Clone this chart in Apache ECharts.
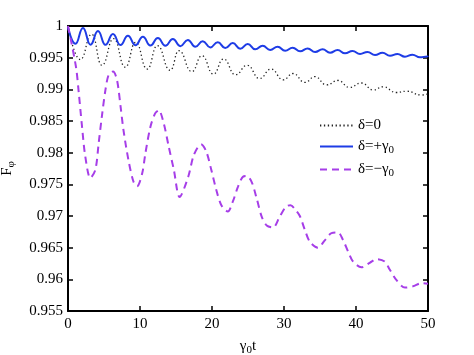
<!DOCTYPE html>
<html>
<head>
<meta charset="utf-8">
<script src="https://cdn.jsdelivr.net/npm/echarts@6/dist/echarts.min.js"></script>
<style>html,body{margin:0;padding:0;background:#fff}#c{width:474px;height:355px}</style>
</head>
<body>
<div id="c"></div>
<script>
// δ=0 (dotted)
const tZero = [0, 1.7, 3.3, 4.7, 6.35, 7.95, 9.4, 11.0, 12.4, 14.2, 15.4, 17.2, 18.6, 20.2, 21.6, 23.25, 24.9, 26.6, 28.2, 29.9, 31.25, 32.9, 34.3, 35.9, 37.5, 39.1, 40.75, 42.4, 43.75, 45.6, 47.0, 49.1, 50];
const fZero = [1.0, 0.9947, 0.9987, 0.9938, 0.9980, 0.9935, 0.9974, 0.9932, 0.9969, 0.9930, 0.9961, 0.9928, 0.9953, 0.9924, 0.9948, 0.9923, 0.9938, 0.9917, 0.9932, 0.9915, 0.9925, 0.9911, 0.9920, 0.9907, 0.9914, 0.9903, 0.9910, 0.9899, 0.9904, 0.9895, 0.9897, 0.9891, 0.9893];
// δ=+γ0 (solid blue)
const tPlus = [0, 1.04, 2.08, 3.12, 4.16, 5.2, 6.24, 7.28, 8.32, 9.36, 10.4, 11.44, 12.48, 13.52, 14.56, 15.6, 16.64, 17.68, 18.72, 19.76, 20.8, 21.84, 22.88, 23.92, 24.96, 26.0, 27.04, 28.08, 29.12, 30.16, 31.2, 32.24, 33.28, 34.32, 35.36, 36.4, 37.44, 38.48, 39.52, 40.56, 41.6, 42.64, 43.68, 44.72, 45.76, 46.8, 47.84, 48.88, 49.92, 50];
const fPlus = [0.9998, 0.9972, 0.9997, 0.99705, 0.9992, 0.99702, 0.99875, 0.9970, 0.99847, 0.99697, 0.9983, 0.99692, 0.9981, 0.99688, 0.99795, 0.99682, 0.9978, 0.99672, 0.9976, 0.99662, 0.99745, 0.99652, 0.9973, 0.99642, 0.99716, 0.99632, 0.99689, 0.99621, 0.99673, 0.9961, 0.99657, 0.996, 0.99646, 0.9959, 0.99632, 0.99579, 0.99621, 0.99568, 0.99605, 0.99558, 0.9959, 0.99542, 0.99579, 0.99531, 0.99558, 0.99516, 0.99547, 0.99505, 0.9952, 0.9951];
// δ=−γ0 (dashed magenta)
const tMinus = [0, 1.1, 1.5, 1.95, 2.4, 3.1, 3.8, 4.26, 4.7, 5.2, 5.65, 6.25, 6.8, 7.3, 7.7, 8.4, 9.1, 9.6, 10.3, 10.75, 11.45, 12.1, 12.6, 13.3, 14.0, 14.7, 15.5, 16.7, 17.4, 18.05, 18.5, 19.2, 19.9, 20.6, 21.3, 22.2, 22.9, 23.6, 24.3, 24.8, 25.5, 26.2, 26.9, 27.6, 28.5, 29.4, 30.3, 30.9, 31.7, 32.2, 32.9, 33.6, 34.7, 35.7, 36.6, 37.5, 38.2, 38.9, 39.6, 40.75, 41.9, 42.9, 44.0, 44.7, 45.6, 46.8, 47.9, 49.1, 50];
const fMinus = [1.0, 0.9936, 0.9894, 0.9841, 0.9794, 0.9760, 0.9773, 0.9815, 0.9857, 0.9899, 0.9923, 0.9928, 0.9915, 0.9873, 0.9836, 0.9788, 0.9754, 0.9747, 0.9767, 0.9799, 0.9841, 0.9862, 0.9867, 0.9846, 0.9809, 0.9773, 0.9730, 0.9762, 0.9794, 0.9809, 0.9813, 0.9802, 0.9773, 0.9741, 0.9717, 0.9707, 0.9723, 0.9746, 0.9762, 0.9763, 0.9754, 0.9728, 0.9699, 0.9685, 0.9682, 0.9699, 0.9715, 0.9717, 0.9708, 0.9700, 0.9678, 0.9659, 0.9650, 0.9662, 0.9673, 0.9674, 0.9662, 0.9644, 0.9628, 0.9619, 0.9626, 0.9632, 0.9628, 0.9615, 0.9599, 0.9587, 0.9589, 0.9594, 0.9593];

const xTicks = [0, 10, 20, 30, 40, 50];
const yTicks = [0.955, 0.96, 0.965, 0.97, 0.975, 0.98, 0.985, 0.99, 0.995, 1];

const zip = (a, b) => a.map((v, i) => [v, b[i]]);
const FONT = 'Liberation Serif';

const chart = echarts.init(document.getElementById('c'), null, {renderer: 'canvas'});
const axisLine = {show: true, onZero: false, lineStyle: {color: '#000', width: 2}};
const tick = {show: true, inside: true, length: 5, lineStyle: {color: '#000', width: 1.5}};
chart.setOption({
  animation: false,
  backgroundColor: '#fff',
  grid: {left: 68, right: 46, top: 26, bottom: 44, containLabel: false, outerBoundsMode: 'none'},
  legend: {
    orient: 'vertical', left: 314, top: 113, itemWidth: 33, itemHeight: 12, itemGap: 6,
    itemStyle: {opacity: 0},
    data: ['δ=0', 'δ=+γ0', 'δ=−γ0'],
    formatter: n => n === 'δ=0' ? '{a|δ=0}' : (n === 'δ=+γ0' ? '{a|δ=+γ}{s|0}' : '{a|δ=−γ}{s|0}'),
    textStyle: {
      fontFamily: FONT, fontSize: 15, color: '#000',
      rich: {a: {fontFamily: FONT, fontSize: 15, color: '#000'}, s: {fontFamily: FONT, fontSize: 11, color: '#000', verticalAlign: 'bottom', padding: [8, 0, 0, 0]}}
    }
  },
  xAxis: [{
    type: 'value', min: 0, max: 50, interval: 10, position: 'bottom',
    axisLine, axisTick: tick, splitLine: {show: false},
    axisLabel: {fontFamily: FONT, fontSize: 15, color: '#000', margin: 6},
    name: '{g|γ}{s|0}{g|t}', nameLocation: 'middle', nameGap: 26,
    nameTextStyle: {rich: {g: {fontFamily: FONT, fontSize: 15, color: '#000'}, s: {fontFamily: FONT, fontSize: 11, color: '#000', padding: [8, 0, 0, 0]}}}
  }, {
    type: 'value', min: 0, max: 50, interval: 10, position: 'top',
    axisLine, axisTick: tick, axisLabel: {show: false}, splitLine: {show: false}
  }],
  yAxis: [{
    type: 'value', min: 0.955, max: 1, interval: 0.005, position: 'left',
    axisLine, axisTick: tick, splitLine: {show: false},
    axisLabel: {fontFamily: FONT, fontSize: 15, color: '#000', margin: 5, formatter: v => String(+v.toFixed(3))},
    name: '{f|F}{s|φ}', nameLocation: 'middle', nameGap: 51, nameRotate: 90,
    nameTextStyle: {rich: {f: {fontFamily: FONT, fontSize: 15, color: '#000'}, s: {fontFamily: FONT, fontSize: 11, color: '#000', padding: [8, 0, 0, 0]}}}
  }, {
    type: 'value', min: 0.955, max: 1, interval: 0.005, position: 'right',
    axisLine, axisTick: tick, axisLabel: {show: false}, splitLine: {show: false}
  }],
  series: [
    {name: 'δ=0', type: 'line', data: zip(tZero, fZero), showSymbol: false, symbol: 'none', smooth: 0.5, smoothMonotone: 'x',
     lineStyle: {color: '#222', width: 1.3, type: [1.3, 2.6]}, itemStyle: {color: '#222'}},
    {name: 'δ=+γ0', type: 'line', data: zip(tPlus, fPlus), showSymbol: false, symbol: 'none', smooth: 0.5, smoothMonotone: 'x',
     lineStyle: {color: '#1e3ce6', width: 2}, itemStyle: {color: '#1e3ce6'}},
    {name: 'δ=−γ0', type: 'line', data: zip(tMinus, fMinus), showSymbol: false, symbol: 'none', smooth: 0.3,
     lineStyle: {color: '#a63ee8', width: 2, type: [7, 5]}, itemStyle: {color: '#a63ee8'}}
  ]
});
</script>
</body>
</html>
